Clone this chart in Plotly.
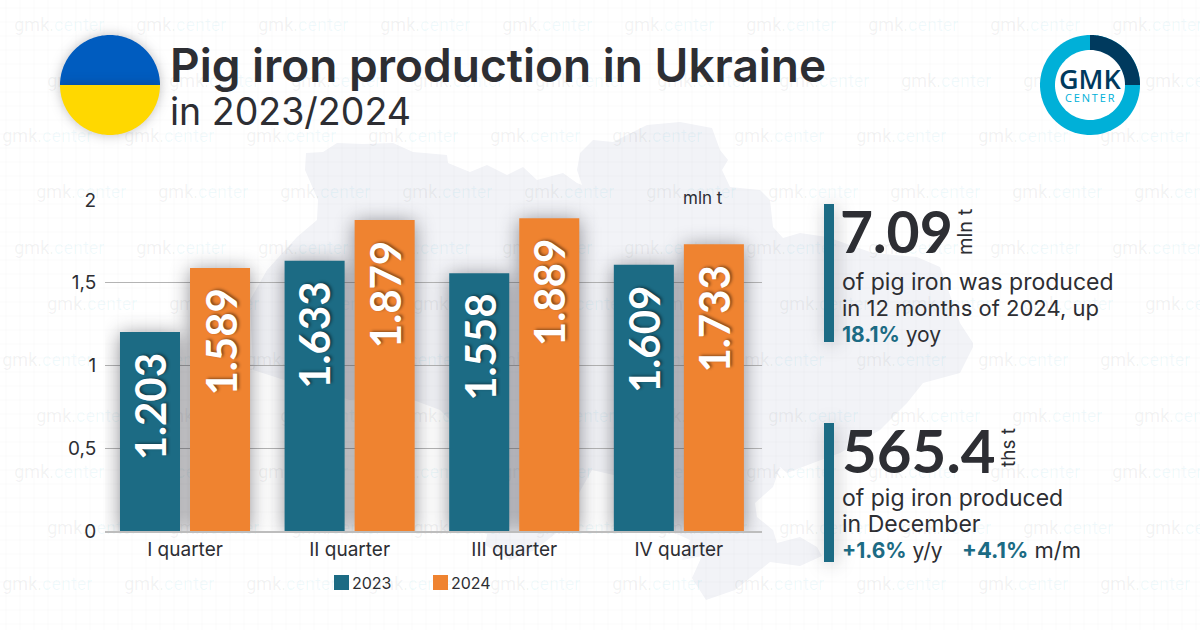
import numpy as np
import plotly.graph_objects as go

# Quarterly output, mln t
quarters = ["I quarter", "II quarter", "III quarter", "IV quarter"]
values_2023 = [1.203, 1.633, 1.558, 1.609]
values_2024 = [1.589, 1.879, 1.889, 1.733]
years = ["2023", "2024"]
tick_values = [0, 0.5, 1, 1.5, 2]
tick_labels = ["0", "0,5", "1", "1,5", "2"]

TEAL = "#1c6b84"
ORANGE = "#ef8330"
INK = "#2d2e33"
W, H = 1200, 630
HEAD = "Inter"
NUM = "Lato"

# Simplified silhouette of the country drawn behind the chart (pixel space)
outline = [(306,153),(323,152),(337,143),(363,144),(393,143),(413,152),(447,155),(448,163),(465,170),(470,172),
           (487,165),(507,175),(523,167),(537,180),(563,173),(577,183),(582,185),(577,170),(580,153),(593,140),
           (613,142),(647,125),(680,122),(712,128),(720,150),(728,160),(722,170),(730,187),(760,190),(770,200),
           (773,227),(783,238),(800,233),(827,237),(873,253),(917,257),(940,267),(960,323),(973,343),(973,347),
           (960,373),(923,383),(907,403),(880,430),(840,453),(813,463),(787,473),(780,467),(773,487),(755,503),
           (757,517),(773,530),(777,543),(800,537),(817,547),(822,556),(800,566),(770,562),(735,590),(706,600),
           (692,578),(702,556),(682,560),(690,540),(668,530),(640,500),(618,476),(592,470),(575,500),(560,530),
           (535,550),(510,560),(485,545),(490,520),(490,480),(470,440),(440,410),(400,395),(350,400),(300,385),
           (253,370),(250,300),(267,270),(297,237),(317,220),(318,200),(305,170)]


def polygon(points):
    return "M" + "L".join(f"{x:.1f},{y:.1f}" for x, y in points) + "Z"


def arc(cx, cy, r, start, stop, closed_centre=False):
    angles = np.radians(np.linspace(start, stop, 90))
    pts = [(cx + r * np.cos(a), cy + r * np.sin(a)) for a in angles]
    if closed_centre:
        pts.append((cx, cy))
    return polygon(pts)


def shape(path, color, layer="above"):
    return dict(type="path", path=path, xref="x", yref="y", fillcolor=color, line_width=0, layer=layer)


def label(x, y, text, size=22, color=INK, family=HEAD, anchor="left", weight=400, angle=0, **kw):
    return dict(x=x, y=y, xref="x", yref="y", text=text, showarrow=False, xanchor=anchor, yanchor="middle",
                textangle=angle, font=dict(family=family, size=size, color=color, weight=weight), **kw)


# Faint page grid
grid_path = "".join(f"M{x},0V{H}" for x in range(6, W, 14)) + "".join(f"M0,{y}H{W}" for y in range(8, H, 14))
shapes = [
    shape(polygon(outline), "#f2f3f7", "below"),
    dict(type="path", path=grid_path, xref="x", yref="y", line=dict(color="rgba(20,20,70,0.02)", width=1), layer="below"),
    # Flag
    shape(arc(110, 85, 50, 180, 360), "#005cbf"),
    shape(arc(110, 85, 50, 0, 180), "#ffd800"),
    # Logo ring
    shape(arc(1090, 85, 50, 0, 360), "#00b0d8"),
    shape(arc(1090, 85, 50, -90, 0, True), "#003a5e"),
    shape(arc(1090, 85, 35, 0, 360), "#ffffff"),
    # Side panel rules
    dict(type="rect", x0=824, x1=834, y0=204, y1=342, xref="x", yref="y", fillcolor=TEAL, line_width=0),
    dict(type="rect", x0=824, x1=834, y0=423, y1=562, xref="x", yref="y", fillcolor=TEAL, line_width=0),
    # Legend keys
    dict(type="rect", x0=334, x1=349, y0=575, y1=590, xref="x", yref="y", fillcolor=TEAL, line_width=0),
    dict(type="rect", x0=433, x1=448, y0=575, y1=590, xref="x", yref="y", fillcolor=ORANGE, line_width=0),
]

annotations = [
    label(168, 65, "Pig iron production in Ukraine", size=46, weight=600),
    label(168, 111, "in 2023/2024", size=37.5),
    label(703, 198, "mln t", size=17, anchor="center"),
    label(1090, 78, "GMK", size=27, color="#003a5e", family="Open Sans", anchor="center", weight=600),
    label(1090, 97, "C\u2009E\u2009N\u2009T\u2009E\u2009R", size=11, color="#00b0d8", family="Open Sans", anchor="center"),
    label(838, 231, "7.09", size=57, family=NUM, weight=700),
    label(965, 232, "mln t", size=20, anchor="center", angle=-90),
    label(840, 282, "of pig iron was produced", size=23),
    label(840, 308, "in 12 months of 2024, up", size=22),
    label(840, 334, f"<b><span style='color:{TEAL}'>18.1%</span></b> yoy", size=21),
    label(840, 450, "565.4", size=60, family=NUM, weight=700),
    label(1008, 448, "ths t", size=19, anchor="center", angle=-90),
    label(840, 498, "of pig iron produced", size=23),
    label(840, 524, "in December", size=23),
    label(840, 550, f"<b><span style='color:{TEAL}'>+1.6%</span></b> y/y", size=21),
    label(960, 550, f"<b><span style='color:{TEAL}'>+4.1%</span></b> m/m", size=22),
    label(350, 583, years[0], size=16),
    label(449, 583, years[1], size=16),
]

# Value labels, rotated inside the bars and hung from each bar's top
for i in range(len(quarters)):
    for series, offset in ((values_2023, -0.2128), (values_2024, 0.2128)):
        annotations.append(dict(
            x=i + offset, y=series[i], xref="x2", yref="y2", yshift=-19, xanchor="center", yanchor="top",
            text=f"{series[i]:.3f}", showarrow=False, textangle=-90,
            font=dict(family=NUM, size=42, color="white", weight=700, shadow="1px 2px 3px rgba(0,0,0,0.45)"),
        ))

# Tiled site mark
mark_rows = [26, 82, 137, 193, 249, 305, 361, 417, 473, 529, 585]
mark_starts = [13, 46, 1, 35]
mark_x, mark_y = [], []
for r, row in enumerate(mark_rows):
    for x in range(mark_starts[r % 4], W, 122):
        mark_x.append(x + 41)
        mark_y.append(row)

fig = go.Figure()
mark_font = dict(family="Roboto", size=18)
fig.add_trace(go.Scatter(x=mark_x, y=mark_y, mode="text", text=["gmk."] * len(mark_x), textposition="middle left",
                         textfont=dict(color="rgba(70,85,85,0.07)", **mark_font), hoverinfo="skip", showlegend=False))
fig.add_trace(go.Scatter(x=mark_x, y=mark_y, mode="text", text=["center"] * len(mark_x), textposition="middle right",
                         textfont=dict(color="rgba(0,170,200,0.06)", **mark_font), hoverinfo="skip", showlegend=False))

for name, series, color in ((years[0], values_2023, TEAL), (years[1], values_2024, ORANGE)):
    fig.add_trace(go.Bar(x=quarters, y=series, name=name, marker=dict(color=color, line_width=0),
                         xaxis="x2", yaxis="y2", showlegend=False))

fig.update_layout(
    width=W, height=H, margin=dict(l=0, r=0, t=0, b=0, autoexpand=False), autosize=False,
    paper_bgcolor="white", plot_bgcolor="rgba(0,0,0,0)",
    barmode="group", bargap=0.149, bargroupgap=0.143,
    shapes=shapes, annotations=annotations,
    xaxis=dict(domain=[0, 1], range=[0, W], visible=False, fixedrange=True),
    yaxis=dict(domain=[0, 1], range=[H, 0], visible=False, fixedrange=True),
    xaxis2=dict(domain=[105 / W, 762 / W], anchor="y2", type="category", categoryorder="array",
                categoryarray=quarters, range=[-0.486, 3.505], showgrid=False, showline=True,
                linecolor="#bdbdbd", linewidth=2, ticks="", 
                tickfont=dict(family=HEAD, size=19, color=INK)),
    yaxis2=dict(domain=[1 - 531 / H, 1 - 200 / H], anchor="x2", range=[0, 2], tickmode="array",
                tickvals=tick_values, ticktext=tick_labels, showgrid=True, gridcolor="#b4b4b4", gridwidth=1.4,
                zeroline=False, ticks="outside", ticklen=4, tickcolor="rgba(0,0,0,0)",
                tickfont=dict(family=HEAD, size=19, color=INK)),
    hovermode=False,
)

# Soft drop shadows for the bars, flag and side rules
shadow_css = """
.barlayer {filter: drop-shadow(0 2px 10px rgba(25,25,35,0.48));}
.layer-above .shapelayer path[data-index="2"], .layer-above .shapelayer path[data-index="3"] {filter: drop-shadow(0 0 6px rgba(25,25,35,0.28));}
.layer-above .shapelayer path[data-index="7"], .layer-above .shapelayer path[data-index="8"] {filter: drop-shadow(2px 2px 9px rgba(25,25,35,0.28));}
"""
post = "var s=document.createElement('style');s.textContent=" + repr(shadow_css.replace("\n", " ")) + ";document.head.appendChild(s);"
fig.write_html("out.html", post_script=post, config=dict(displayModeBar=False))
